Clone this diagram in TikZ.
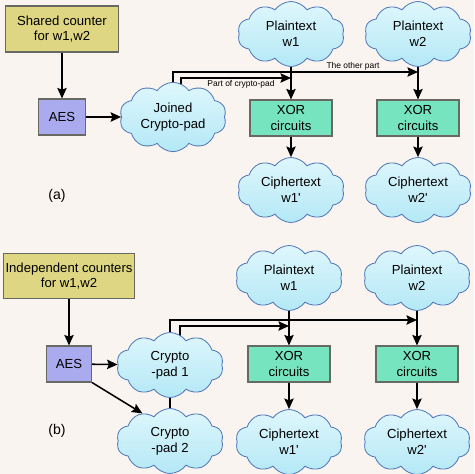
\documentclass[tikz,border=0pt]{standalone}
\usepackage{fontspec}
\setmainfont{Liberation Sans}
\usetikzlibrary{shapes.symbols,arrows.meta,calc}
\definecolor{pagebg}{RGB}{250,244,240}
\definecolor{ctrfill}{RGB}{222,214,130}
\definecolor{aesfill}{RGB}{170,170,238}
\definecolor{xorfill}{RGB}{118,228,190}
\definecolor{boxline}{RGB}{105,105,100}
\definecolor{cloudtop}{RGB}{222,247,252}
\definecolor{cloudbot}{RGB}{180,232,246}
\definecolor{cloudline}{RGB}{80,120,185}
\pgfdeclarelayer{bg}
\pgfsetlayers{bg,main}

\begin{document}
\begin{tikzpicture}[x={(0.03cm,0)}, y={(0,-0.03cm)},
    every node/.style={font=\fontsize{11.2}{13.4}\selectfont, align=center},
    box/.style={rectangle, draw=boxline, line width=0.9pt, inner sep=2pt},
    ctr/.style={box, fill=ctrfill, minimum width=3.39cm, minimum height=1.38cm},
    aes/.style={box, fill=aesfill, minimum width=1.41cm, minimum height=1.08cm},
    xorbox/.style={box, fill=xorfill, minimum width=2.46cm, minimum height=1.08cm},
    puff/.style={cloud, cloud puffs=10, cloud puff arc=110, aspect=1.6,
        draw=cloudline, line width=0.7pt, top color=cloudtop, bottom color=cloudbot,
        minimum width=3.2cm, minimum height=1.95cm, inner sep=0pt},
    arr/.style={-{Stealth[length=9pt,width=8pt,inset=1.5pt]}, line width=1.3pt},
    tag/.style={font=\fontsize{7.2}{8}\selectfont, inner sep=1pt}
]
    \useasboundingbox (0,0) rectangle (474,474);
    \begin{pgfonlayer}{bg}
        \fill[pagebg] (0,0) rectangle (474,474);
    \end{pgfonlayer}

    % (a) shared counter
    \node[ctr] (cnta) at (62,29) {Shared counter\\for w1,w2};
    \node[aes] (aesa) at (62,117) {AES};
    \node[puff] (jpad) at (173,117) {Joined\\Crypto-pad};
    \node[puff] (pla1) at (291,34) {Plaintext\\w1};
    \node[puff] (pla2) at (418,34) {Plaintext\\w2};
    \node[xorbox] (xra1) at (291,118) {XOR\\circuits};
    \node[xorbox] (xra2) at (418,118) {XOR\\circuits};
    \node[puff] (cpa1) at (291,190) {Ciphertext\\w1\textquotesingle};
    \node[puff] (cpa2) at (418,190) {Ciphertext\\w2\textquotesingle};
    \node[font=\fontsize{12}{14}\selectfont] (laba) at (57,196) {(a)};

    \coordinate (ja1) at (291,78);
    \coordinate (ja2) at (418,72);
    \draw[arr] (cnta) -- (aesa);
    \draw[arr] (aesa) -- (jpad);
    \begin{pgfonlayer}{bg}
        \draw[arr] (jpad.center) |- (ja2);
        \draw[arr] ($(jpad.center)+(8,0)$) |- (ja1);
    \end{pgfonlayer}
    \node[tag] (ta1) at (241,84) {Part of crypto-pad};
    \node[tag] (ta2) at (353,66) {The other part};
    \draw[arr] (pla1) -- (xra1);
    \draw[arr] (pla2) -- (xra2);
    \draw[arr] (xra1) -- (cpa1);
    \draw[arr] (xra2) -- (cpa2);

    % (b) independent counters
    \node[ctr, minimum width=3.93cm, minimum height=1.35cm] (cntb) at (69,276) {Independent counters\\for w1,w2};
    \node[aes, minimum width=1.35cm] (aesb) at (69,364) {AES};
    \node[puff] (pad1) at (170,365) {Crypto\\-pad 1};
    \node[puff] (pad2) at (170,441) {Crypto\\-pad 2};
    \node[puff] (plb1) at (289,278) {Plaintext\\w1};
    \node[puff] (plb2) at (417,278) {Plaintext\\w2};
    \node[xorbox] (xrb1) at (289,364) {XOR\\circuits};
    \node[xorbox] (xrb2) at (417,364) {XOR\\circuits};
    \node[puff] (cpb1) at (289,442) {Ciphertext\\w1\textquotesingle};
    \node[puff] (cpb2) at (417,442) {Ciphertext\\w2\textquotesingle};
    \node[font=\fontsize{12}{14}\selectfont] (labb) at (57,431) {(b)};

    \coordinate (jb1) at (289,326);
    \coordinate (jb2) at (417,320);
    \draw[arr] (cntb) -- (aesb);
    \draw[arr] (aesb) -- (pad1);
    \draw[arr] (aesb.south east) -- (pad2.135);
    \begin{pgfonlayer}{bg}
        \draw[arr] (pad2.center) |- (jb2);
        \draw[arr] ($(pad1.center)+(10,0)$) |- (jb1);
    \end{pgfonlayer}
    \draw[arr] (plb1) -- (xrb1);
    \draw[arr] (plb2) -- (xrb2);
    \draw[arr] (xrb1) -- (cpb1);
    \draw[arr] (xrb2) -- (cpb2);
\end{tikzpicture}
\end{document}
